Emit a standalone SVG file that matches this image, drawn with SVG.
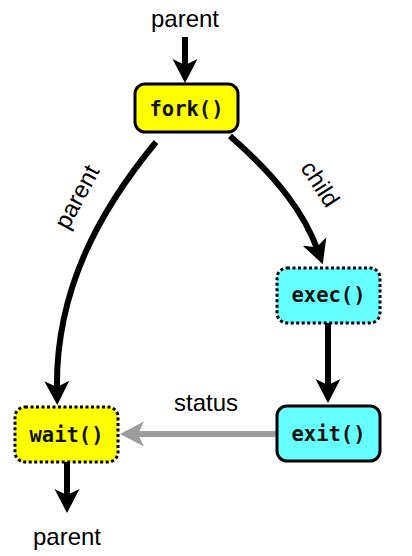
<svg xmlns="http://www.w3.org/2000/svg" width="412" height="556" viewBox="0 0 412 556">
<defs>
<style>
.lbl{font-family:"Liberation Sans",Arial,sans-serif;font-size:24px;fill:#000;text-anchor:middle}
.code{font-family:"DejaVu Sans Mono","Liberation Mono",monospace;font-weight:bold;font-size:20.5px;fill:#111;text-anchor:middle}
.solid{stroke:#000;stroke-width:3}
.dotted{stroke:#000;stroke-width:3;stroke-dasharray:3 2.5}
.yellow{fill:#ffff00}
.cyan{fill:#66ffff}
.arr{fill:none;stroke:#000;stroke-width:6;marker-end:url(#ah)}
.garr{fill:none;stroke:#9c9c9c;stroke-width:6;marker-end:url(#gah)}
</style>
<marker id="ah" markerUnits="userSpaceOnUse" viewBox="0 -13 24 26" refX="10" refY="0" markerWidth="24" markerHeight="26" orient="auto">
<path d="M0,-12.5 L24,0 L0,12.5 L6,0 Z" fill="#000"/>
</marker>
<marker id="gah" markerUnits="userSpaceOnUse" viewBox="0 -13 24 26" refX="10" refY="0" markerWidth="24" markerHeight="26" orient="auto">
<path d="M0,-12.5 L24,0 L0,12.5 L6,0 Z" fill="#9c9c9c"/>
</marker>
</defs>
<rect width="412" height="556" fill="#fff"/>
<g id="connectors">
<path class="arr" d="M185,37 L185,69"/>
<path class="arr" d="M156,142 C100,210 55,290 57,391"/>
<path class="arr" d="M230,136 C280,180 305,215 318,251"/>
<path class="arr" d="M328,323 L328,389"/>
<path class="garr" d="M276,434 L134,434"/>
<path class="arr" d="M67,462 L67,499"/>
<text class="lbl" x="185" y="27">parent</text>
<text class="lbl" transform="translate(77,197) rotate(-62)" y="8">parent</text>
<text class="lbl" transform="translate(320,184) rotate(57)" y="8">child</text>
<text class="lbl" x="206" y="411">status</text>
<text class="lbl" x="67" y="545">parent</text>
</g>
<g id="fork">
<rect class="yellow solid" x="135" y="84" width="103" height="48" rx="10"/>
<text class="code" x="186.5" y="116">fork()</text>
</g>
<g id="exec">
<rect class="cyan dotted" x="277" y="268" width="103" height="55" rx="10"/>
<text class="code" x="328.5" y="302">exec()</text>
</g>
<g id="exit">
<rect class="cyan solid" x="277" y="406" width="103" height="55" rx="10"/>
<text class="code" x="328.5" y="441">exit()</text>
</g>
<g id="wait">
<rect class="yellow dotted" x="15" y="407" width="103" height="55" rx="10"/>
<text class="code" x="66.5" y="442">wait()</text>
</g>
</svg>
